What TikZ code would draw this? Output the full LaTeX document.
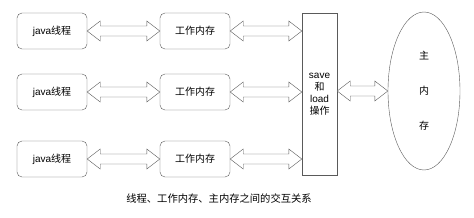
\documentclass[tikz,border=0pt]{standalone}
\usepackage{fontspec}
\setmainfont{Liberation Sans}
\newfontfamily\cjk{Noto Sans CJK SC}
\usepackage{tikz}
\usetikzlibrary{calc,shapes.geometric}
\definecolor{edge}{HTML}{5A5A5A}
\tikzset{thread/.style={draw=edge,rounded corners=5pt,fill=white,minimum width=70pt,minimum height=36pt,inner sep=0pt,font=\fontsize{10}{11}\selectfont},
  work/.style={thread,font=\fontsize{10}{11}\selectfont\cjk},
  ops/.style={draw=edge,fill=white,minimum width=35pt,minimum height=162pt,inner sep=0pt,align=center,font=\fontsize{10}{12}\selectfont},
  mem/.style={draw=edge,ellipse,fill=white,minimum width=72pt,minimum height=158pt,inner sep=0pt,align=center,font=\fontsize{10}{11}\selectfont\cjk},
  harrow/.style={draw=edge,fill=white,line join=miter},
  captext/.style={font=\fontsize{10.3}{12}\selectfont\cjk}}
\newcommand\hollowarrow[2]{%
  \path (#1) coordinate (ha) (#2) coordinate (hb);
  \draw[harrow] (ha) -- ++(13,10) -- ++(0,-5) -- ($(hb)+(-13,5)$) -- ++(0,5) -- (hb)
    -- ++(-13,-10) -- ++(0,5) -- ($(ha)+(13,-5)$) -- ++(0,-5) -- cycle;}

\begin{document}
\begin{tikzpicture}[x=1pt,y=-1pt]
\useasboundingbox (0,0) rectangle (474,217);
% threads and working memory
\foreach \n/\y in {1/31,2/92,3/159}{
  \node[thread] (java\n) at (52,\y) {java{\cjk 线程}};
  \node[work] (work\n) at (195,\y) {工作内存};
}
\node[ops] (save) at (319.5,94) {save\\{\cjk 和}\\load\\{\cjk 操作}};
\node[mem] (main) at (424,91) {主\\[24pt]内\\[24pt]存};
% connectors
\foreach \n in {1,2,3}{
  \hollowarrow{java\n.east}{work\n.west}
  \hollowarrow{work\n.east}{work\n.east -| save.west}
}
\hollowarrow{save.east |- main.west}{main.west}
\node[captext] (caption) at (219,199) {线程、工作内存、主内存之间的交互关系};
\end{tikzpicture}
\end{document}
